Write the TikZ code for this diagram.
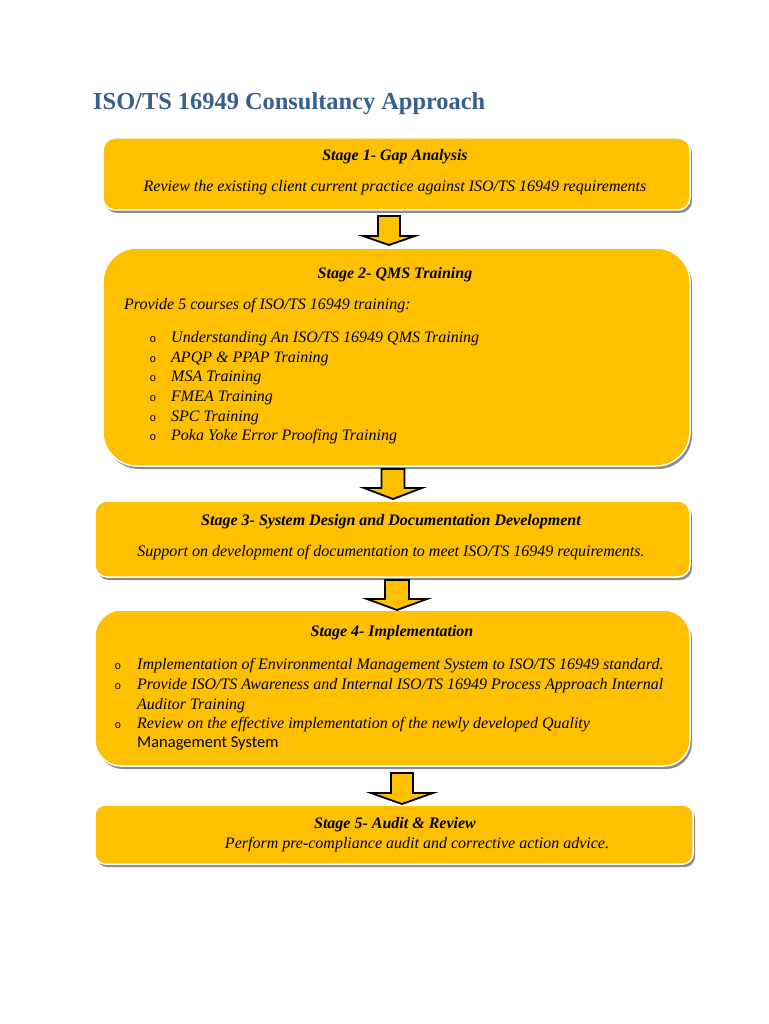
\documentclass[tikz,border=0pt]{standalone}
\usepackage{fontspec}
\setmainfont{Liberation Serif}
\newfontfamily\sansf{Carlito}
\newfontfamily\monof{Liberation Mono}
\usetikzlibrary{shadows}
\definecolor{boxyellow}{RGB}{255,192,0}
\definecolor{titleblue}{RGB}{54,95,145}
\definecolor{shadowgray}{RGB}{140,140,140}
\tikzset{
  stagebox/.style={draw=white, line width=1.5pt, fill=boxyellow, inner sep=0pt,
    drop shadow={shadow xshift=2pt, shadow yshift=-3pt, fill=shadowgray, opacity=1}},
  bodytxt/.style={inner sep=0pt, font=\fontsize{16}{18}\selectfont\itshape},
  headtxt/.style={inner sep=0pt, font=\fontsize{16}{18}\selectfont\bfseries\itshape},
  bul/.style={inner sep=0pt, font=\fontsize{11}{13}\selectfont\monof},
  blockarrow/.style={draw=black, line width=1.8pt, fill=boxyellow, line join=miter}
}
\newcommand{\blkarrow}[6]{% cx, top, headstart, tip, shaft half, head half
  \draw[blockarrow] (#1-#5,#2) -- (#1+#5,#2) -- (#1+#5,#3) -- (#1+#6,#3) -- (#1,#4)
    -- (#1-#6,#3) -- (#1-#5,#3) -- cycle;}
\begin{document}
\begin{tikzpicture}[x=1pt,y=-1pt]
\useasboundingbox (0,0) rectangle (768,1024);
% title
\node[anchor=base west, inner sep=0pt, text=titleblue,
  font=\fontsize{24.4}{27}\selectfont\bfseries] (title) at (93,110)
  {ISO/TS 16949 Consultancy Approach};
% boxes
\node[stagebox, rounded corners=12pt, minimum width=587pt, minimum height=72pt] (s1) at (396.5,174) {};
\node[stagebox, rounded corners=34pt, minimum width=587pt, minimum height=218pt] (s2) at (396.5,357) {};
\node[stagebox, rounded corners=12pt, minimum width=595pt, minimum height=76pt] (s3) at (392.5,539) {};
\node[stagebox, rounded corners=26pt, minimum width=595pt, minimum height=156pt] (s4) at (392.5,688) {};
\node[stagebox, rounded corners=10pt, minimum width=598pt, minimum height=59pt] (s5) at (394,834.5) {};
% arrows
\blkarrow{389}{216}{236}{245}{11}{26}
\blkarrow{393}{469}{488}{499}{11.5}{29}
\blkarrow{397}{580}{599}{610}{12}{30}
\blkarrow{402}{773}{793}{804}{11}{31}
% stage 1
\node[headtxt, anchor=base] (h1) at (395,161) {Stage 1- Gap Analysis};
\node[bodytxt, anchor=base] (t1) at (395,192) {Review the existing client current practice against ISO/TS 16949 requirements};
% stage 2
\node[headtxt, anchor=base] (h2) at (395,278) {Stage 2- QMS Training};
\node[bodytxt, anchor=base west] (t2) at (124,309) {Provide 5 courses of ISO/TS 16949 training:};
\foreach \yy/\txt [count=\i] in {342/{Understanding An ISO/TS 16949 QMS Training},
  362/{APQP \& PPAP Training}, 381/{MSA Training}, 401/{FMEA Training},
  421/{SPC Training}, 440/{Poka Yoke Error Proofing Training}}{
  \node[bul, anchor=base] (b2\i) at (153,\yy) {o};
  \node[bodytxt, anchor=base west] (l2\i) at (171,\yy) {\txt};
}
% stage 3
\node[headtxt, anchor=base] (h3) at (391,525) {Stage 3- System Design and Documentation Development};
\node[bodytxt, anchor=base] (t3) at (391,556) {Support on development of documentation to meet ISO/TS 16949 requirements.};
% stage 4
\node[headtxt, anchor=base] (h4) at (392,636) {Stage 4- Implementation};
\node[bul, anchor=base] (b41) at (118,669) {o};
\node[bodytxt, anchor=base west] (l41) at (137,669) {Implementation of Environmental Management System to ISO/TS 16949 standard.};
\node[bul, anchor=base] (b42) at (118,689) {o};
\node[bodytxt, anchor=base west] (l42) at (137,689) {Provide ISO/TS Awareness and Internal ISO/TS 16949 Process Approach Internal};
\node[bodytxt, anchor=base west] (l42b) at (137,709) {Auditor Training};
\node[bul, anchor=base] (b43) at (118,728) {o};
\node[bodytxt, anchor=base west] (l43) at (137,728) {Review on the effective implementation of the newly developed Quality};
\node[inner sep=0pt, anchor=base west, font=\fontsize{16.5}{18}\selectfont\sansf] (l43b) at (137,747) {Management System};
% stage 5
\node[headtxt, anchor=base] (h5) at (395,828) {Stage 5- Audit \& Review};
\node[bodytxt, anchor=base] (t5) at (417,848) {Perform pre-compliance audit and corrective action advice.};
\end{tikzpicture}
\end{document}
